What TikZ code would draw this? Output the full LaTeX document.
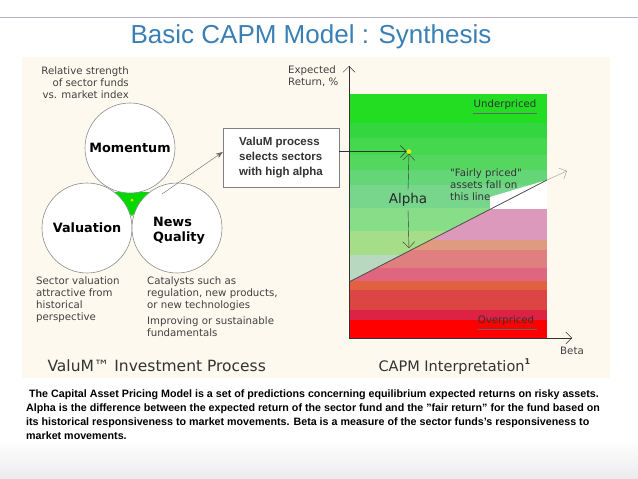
\documentclass[tikz,border=0pt]{standalone}
\usepackage{fontspec}
\setmainfont{Liberation Sans}
\newfontfamily\verd{DejaVu Sans}
\usetikzlibrary{arrows.meta}
\begin{document}
\begin{tikzpicture}[x=1pt,y=-1pt,
  lab/.style={font=\verd\fontsize{10.2}{12}\selectfont,text=black!75,inner sep=0pt},
  circ/.style={draw=black!45,fill=white,line width=0.6pt}]
\useasboundingbox (0,0) rectangle (638,479);
\fill[white] (0,0) rectangle (638,479);
\shade[top color=white,bottom color=blue!6!gray!15] (0,440) rectangle (638,479);
\draw[blue!20!gray!50,line width=0.8pt] (0,17) -- (638,17);
\node (title) at (311,37) {\fontsize{26}{28}\selectfont\color[HTML]{3A80B4}Basic CAPM Model : Synthesis};
\fill[fill={rgb,255:red,253;green,249;blue,238}] (22,57) rectangle (610,378);
% left panel
\node[lab,align=right,anchor=north east] (rs) at (129,67) {Relative strength\\of sector funds\\vs. market index};
\fill[green!85!black] (108,192) -- (155,192) -- (132,216) -- cycle;
\node[circ,circle,minimum size=90pt] (mom) at (130,148) {};
\node[circ,circle,minimum size=90pt] (val) at (87,228) {};
\node[circ,circle,minimum size=90pt] (news) at (177,228) {};
\fill[yellow!80!orange] (132,200) circle (1.5);
\node[font=\verd\bfseries\fontsize{12.8}{13}\selectfont] at (mom) {Momentum};
\node[font=\verd\bfseries\fontsize{12.8}{13}\selectfont] at (val) {Valuation};
\node[font=\verd\bfseries\fontsize{12.8}{15}\selectfont,align=left] at (179,231) {News\\Quality};
\node[lab,align=left,anchor=north west] (sv) at (36,277) {Sector valuation\\attractive from\\historical\\perspective};
\node[lab,align=left,anchor=north west] (cat) at (147,277) {Catalysts such as\\regulation, new products,\\or new technologies};
\node[lab,align=left,anchor=north west] (imp) at (147,317) {Improving or sustainable\\fundamentals};
\node[anchor=west,font=\verd\fontsize{15.5}{17}\selectfont,text=black!80] (vip) at (44,366) {ValuM™ Investment Process};
\node[draw=black!50,fill=white,minimum width=116pt,minimum height=59pt,align=left,font=\bfseries\fontsize{11.5}{15}\selectfont,text=black!80] (box) at (281,157.5) {ValuM process\\selects sectors\\with high alpha};
\coordinate (astart) at (162,194);
\draw[black!60,-{Stealth[length=7pt]}] (astart) -- (box.west |- 0,152);
% right panel
\begin{scope}
\clip (349,94) rectangle (547,338);
\fill[fill={rgb,255:red,34;green,221;blue,34}] (349,94) rectangle (547,124);
\fill[fill={rgb,255:red,51;green,214;blue,62}] (349,123) rectangle (547,139);
\fill[fill={rgb,255:red,68;green,216;blue,78}] (349,138) rectangle (547,156);
\fill[fill={rgb,255:red,85;green,214;blue,95}] (349,155) rectangle (547,171);
\fill[fill={rgb,255:red,100;green,214;blue,120}] (349,170) rectangle (547,186);
\fill[fill={rgb,255:red,120;green,214;blue,140}] (349,185) rectangle (547,209);
\fill[fill={rgb,255:red,136;green,221;blue,136}] (349,208) rectangle (547,232);
\fill[fill={rgb,255:red,166;green,221;blue,136}] (349,231) rectangle (547,256);
\fill[fill={rgb,255:red,184;green,216;blue,192}] (349,255) rectangle (547,282);
\fill[white] (490,197) -- (547,180) -- (547,210) -- (490,210) -- cycle;
\clip (349,282) -- (547,180) -- (547,340) -- (349,340) -- cycle;
\fill[fill={rgb,255:red,221;green,153;blue,187}] (349,209) rectangle (547,241);
\fill[fill={rgb,255:red,224;green,154;blue,128}] (349,240) rectangle (547,251);
\fill[fill={rgb,255:red,224;green,127;blue,127}] (349,250) rectangle (547,269);
\fill[fill={rgb,255:red,224;green,102;blue,128}] (349,268) rectangle (547,282);
\fill[fill={rgb,255:red,224;green,96;blue,64}] (349,281) rectangle (547,291);
\fill[fill={rgb,255:red,221;green,68;blue,68}] (349,290) rectangle (547,311);
\fill[fill={rgb,255:red,221;green,34;blue,68}] (349,310) rectangle (547,321);
\fill[fill={rgb,255:red,255;green,0;blue,0}] (349,320) rectangle (547,340);
\end{scope}
\coordinate (orig) at (349,338);
\coordinate (ytop) at (349,66);
\coordinate (xend) at (572,338);
\draw[black!80,-{Straight Barb[length=6pt]}] (orig) -- (ytop);
\draw[black!80,-{Straight Barb[length=6pt]}] (orig) -- (xend);
\coordinate (l0) at (349,282);
\coordinate (l1) at (567,171);
\draw[black!70,line width=0.8pt] (l0) -- (547,180);
\draw[black!40,-{Straight Barb[length=6pt]}] (547,180) -- (l1);
\node[lab,align=left,anchor=north west] (er) at (288,66) {Expected\\Return, \%};
\node[lab,anchor=north] (beta) at (572,347) {Beta};
\node[anchor=west,font=\verd\fontsize{14.5}{15}\selectfont,text=black!80] (capm) at (375,367) {CAPM Interpretation\raisebox{7pt}{\bfseries\fontsize{8}{8}\selectfont 1}};
\node[lab,text=black!80] (up) at (505,105) {Underpriced};
\draw[black!60] (473,113) -- (537,113);
\node[lab,text=black!80] (op) at (506,321) {Overpriced};
\draw[black!60] (478,329) -- (537,329);
\node[circle,fill=yellow!90!orange,inner sep=1.6pt] (dot) at (409,151.5) {};
\draw[black!80,-{Straight Barb[length=6pt]}] (box.east |- dot) -- (dot.west);
\node[font=\verd\fontsize{13.5}{14}\selectfont,text=black!85] (alpha) at (408,200) {Alpha};
\coordinate (lpt) at (409,248);
\draw[black!80,-{Straight Barb[length=6pt]}] (alpha.north) -- (dot.south);
\draw[black!80,-{Straight Barb[length=6pt]}] (alpha.south) -- (lpt);
\node[lab,align=left,anchor=north west,text=black!80] (fp) at (450,169) {"Fairly priced"\\assets fall on\\this line};
% bottom text
\node[anchor=north west,align=left,font=\bfseries\fontsize{10.7}{14}\selectfont,inner sep=0pt] (txt) at (26,390) {\ The Capital Asset Pricing Model is a set of predictions concerning equilibrium expected returns on risky assets.\\Alpha is the difference between the expected return of the sector fund and the "fair return" for the fund based on\\its historical responsiveness to market movements. Beta is a measure of the sector funds's responsiveness to\\market movements.};
\end{tikzpicture}
\end{document}
